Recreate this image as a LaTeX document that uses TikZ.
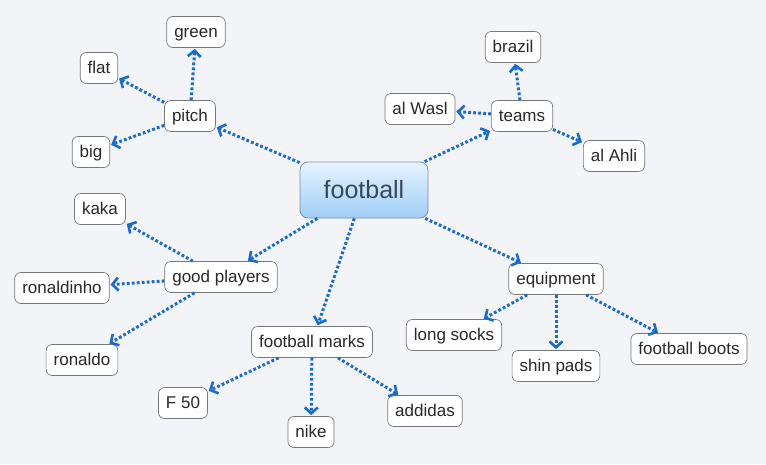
\documentclass[tikz,border=0pt]{standalone}
\usepackage{fontspec}
\setmainfont{Liberation Sans}
\usetikzlibrary{arrows.meta,shadings}
\definecolor{bgcol}{RGB}{242,244,248}
\definecolor{linkcol}{RGB}{25,108,205}
\definecolor{boxline}{RGB}{120,120,120}
\definecolor{txtcol}{RGB}{40,40,40}
\definecolor{roottop}{RGB}{232,244,254}
\definecolor{rootbot}{RGB}{160,206,246}
\definecolor{rootline}{RGB}{122,146,168}
\definecolor{roottxt}{RGB}{55,72,92}
\begin{document}
\begin{tikzpicture}[x=1pt, y=-1pt,
    topic/.style={draw=boxline, fill=white, rounded corners=6pt, line width=0.7pt,
        font=\fontsize{17}{17}\selectfont, text=txtcol, inner xsep=7.5pt, inner ysep=0pt,
        text height=13.5pt, text depth=2.5pt, minimum height=31pt},
    root/.style={draw=rootline, rounded corners=8pt, line width=0.8pt,
        top color=roottop, bottom color=rootbot, font=\fontsize{25}{25}\selectfont,
        text=roottxt, minimum width=128pt, minimum height=56pt},
    link/.style={linkcol, line width=3pt, dash pattern=on 2.8pt off 2.2pt,
        -{Straight Barb[length=6pt, width=13pt, line width=2.6pt]}, shorten >=1pt}]
    \fill[bgcol] (0,0) rectangle (766,464);
    \node at (364,190) (football) [root] {football};
    \node at (190,116) (pitch) [topic] {pitch};
    \node at (196,32) (green) [topic] {green};
    \node at (99,68) (flat) [topic] {flat};
    \node at (91,152) (big) [topic] {big};
    \node at (522,116) (teams) [topic] {teams};
    \node at (513,47) (brazil) [topic] {brazil};
    \node at (420,109) (alwasl) [topic] {al Wasl};
    \node at (614,156) (alahli) [topic] {al Ahli};
    \node at (221,277) (players) [topic] {good players};
    \node at (100,209) (kaka) [topic] {kaka};
    \node at (62,288) (ronaldinho) [topic] {ronaldinho};
    \node at (82,360) (ronaldo) [topic] {ronaldo};
    \node at (312,342) (marks) [topic] {football marks};
    \node at (183,403) (f50) [topic] {F 50};
    \node at (311,432) (nike) [topic] {nike};
    \node at (425,411) (addidas) [topic] {addidas};
    \node at (556,279) (equipment) [topic] {equipment};
    \node at (454,335) (socks) [topic] {long socks};
    \node at (556,366) (pads) [topic] {shin pads};
    \node at (689,349) (boots) [topic] {football boots};
    \draw[link] (football) -- (pitch);
    \draw[link] (football) -- (teams);
    \draw[link] (football) -- (players);
    \draw[link] (football) -- (marks);
    \draw[link] (football) -- (equipment);
    \draw[link] (pitch) -- (green);
    \draw[link] (pitch) -- (flat);
    \draw[link] (pitch) -- (big);
    \draw[link] (teams) -- (brazil);
    \draw[link] (teams) -- (alwasl);
    \draw[link] (teams) -- (alahli);
    \draw[link] (players) -- (kaka);
    \draw[link] (players) -- (ronaldinho);
    \draw[link] (players) -- (ronaldo);
    \draw[link] (marks) -- (f50);
    \draw[link] (marks) -- (nike);
    \draw[link] (marks) -- (addidas);
    \draw[link] (equipment) -- (socks);
    \draw[link] (equipment) -- (pads);
    \draw[link] (equipment) -- (boots);
\end{tikzpicture}
\end{document}
